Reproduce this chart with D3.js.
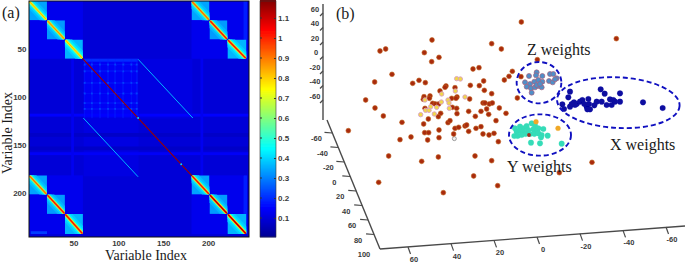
<!DOCTYPE html>
<html>
<head>
<meta charset="utf-8">
<script src="https://cdn.jsdelivr.net/npm/d3@7"></script>
<style>
  html, body { margin: 0; padding: 0; background: #fff; }
  svg { display: block; }
  .tick-label { font-family: "Liberation Sans", sans-serif; font-size: 8px; font-weight: bold; fill: #3a3a3a; }
  .serif-label { font-family: "Liberation Serif", serif; fill: #1a1a1a; }
</style>
</head>
<body>
<svg id="chart" width="685" height="263"></svg>
<script>
// panel (a)
const matrixSize = 245;
const heatTicks = [50, 100, 150, 200];
const colorTicks = [0.1, 0.2, 0.3, 0.4, 0.5, 0.6, 0.7, 0.8, 0.9, 1, 1.1];
const backgroundValue = 0.095;
const groupA = [[1, 20], [21, 40], [41, 60]];
const groupB = [[182, 201], [202, 221], [222, 242]];
const peaksAA = [0.85, 0.9, 0.85];
const peaksAB = [0.95, 1.05, 1.05];
const peaksBA = [0.95, 1.05, 1.05];
const peaksBB = [1.05, 1.15, 1.15];
const blockBase = [0.34, 0.33, 0.36];
// col0, col1, row0, row1, value
const faintRegions = [
  [1, 60, 1, 60, 0.125], [182, 242, 1, 60, 0.125], [1, 60, 182, 242, 0.125], [182, 242, 182, 242, 0.125],
  [62, 122, 61, 122, 0.135], [62, 122, 61, 63, 0.2], [122, 182, 61, 122, 0.11],
  [62, 122, 122, 182, 0.11], [1, 245, 138, 141, 0.075], [1, 245, 152, 155, 0.075],
  [1, 245, 118, 120, 0.15], [1, 245, 158, 160, 0.14], [3, 20, 240, 242, 0.22],
  [48, 50, 60, 182, 0.13], [192, 194, 60, 182, 0.13], [240, 243, 1, 60, 0.18], [240, 243, 182, 242, 0.18]
];
const gridCols = [62, 70, 79, 88, 96, 105, 114, 120];
const gridRows = [66, 73, 85, 96, 106, 112];
const secondaryDiagonals = [[122, 61, 183, 122], [61, 122, 122, 183]];
const mainDiagonal = [60, 182];
const diagonalNodes = [[122, 0.4], [170, 0.4]];

// panel (b), positions in projected plot units
const otherWeights = [[306,120],[150,153],[167,147],[283,158],[305,185],[327,172],[485,131],[514,147],[186,223],[134,246],[248,250],[267,241],[286,248],[429,207],[447,203],[523,240],[537,229],[461,243],[448,257],[421,256],[463,271],[485,281],[107,300],[135,324],[160,348],[216,367],[55,392],[348,258],[345,262],[330,273],[375,263],[381,291],[365,295],[378,295],[419,297],[300,288],[282,290],[280,298],[298,295],[308,310],[316,312],[326,312],[367,322],[380,325],[381,341],[332,340],[325,350],[295,357],[281,372],[285,325],[416,334],[436,349],[453,334],[470,327],[476,343],[508,324],[528,340],[459,309],[465,309],[478,312],[487,309],[498,362],[354,368],[360,362],[375,385],[386,382],[405,378],[410,375],[438,385],[453,380],[210,419],[243,411],[284,398],[296,398],[293,420],[327,413],[371,402],[416,394],[459,402],[477,405],[492,400],[505,425],[176,468],[275,484],[325,471],[435,468],[485,482],[146,547],[431,528],[503,557],[340,578],[327,390],[786,487],[688,518],[574,66],[859,116],[622,179],[547,214],[573,230],[562,294]];
const strayInsideY = [[597,405]];
const paleWeights = [[380,236],[391,237],[335,282],[376,273],[285,300],[334,306],[354,300],[357,309],[405,291],[302,320],[320,322],[358,325],[287,331],[297,331],[313,342],[272,344]];
const greyWeights = [[373,416]];
const zWeights = [[620,217],[618,226],[597,228],[637,228],[660,222],[670,222],[680,235],[585,247],[600,252],[613,245],[625,240],[637,245],[657,243],[668,247],[675,238],[590,260],[603,265],[615,262],[625,258],[635,262],[605,278],[620,255],[630,252]];
const xWeights = [[720,275],[812,268],[824,281],[870,280],[715,292],[697,313],[702,327],[720,320],[725,312],[732,307],[740,312],[750,305],[757,300],[763,312],[770,320],[775,297],[777,312],[780,328],[793,316],[800,305],[815,305],[830,315],[840,298],[850,300],[855,305],[845,315],[870,305],[939,307],[998,324],[772,328],[735,315]];
const yWeights = [[555,385],[570,380],[580,385],[590,378],[605,370],[615,377],[625,385],[640,387],[560,395],[570,392],[580,395],[595,390],[610,388],[620,393],[553,408],[563,408],[575,405],[587,402],[600,402],[613,402],[625,400],[635,405],[653,407],[603,428],[630,430],[695,431],[633,412]];
const orangeWeights = [[618,365],[684,385]];
// cx, cy, rx, ry, tilt
const groupEllipses = [[627,248,67,62,0], [865,308,184,76,3], [630,405,93,62,0]];
// text, x, y
const groupLabels = [["Z weights", 591, 166], ["X weights", 840, 450], ["Y weights", 531, 516]];
const zAxisTicks = [60, 40, 20, 0, -20, -40, -60];
const sideAxisTicks = [-60, -40, -20, 0, 20, 40, 60, 80, 100];
const floorAxisTicks = [60, 40, 20, 0, -20, -40, -60];

const svg = d3.select("#chart");
const defs = svg.append("defs");
defs.append("filter").attr("id", "soft").append("feGaussianBlur").attr("stdDeviation", 0.6);
defs.append("filter").attr("id", "softer").append("feGaussianBlur").attr("stdDeviation", 0.25);

const heatX = d3.scaleLinear().domain([0.5, matrixSize + 0.5]).range([29, 249]);
const heatY = d3.scaleLinear().domain([0.5, matrixSize + 0.5]).range([1, 237]);
const colorMax = 1.19;
const jet = d3.scaleLinear()
  .domain([0, 0.125, 0.375, 0.625, 0.875, 1].map(function(t) { return t * colorMax; }))
  .range(["#000090", "#0000ff", "#00ffff", "#ffff00", "#ff0000", "#800000"]);

defs.append("clipPath").attr("id", "heatClip").append("rect")
  .attr("x", heatX(0.5)).attr("y", heatY(0.5))
  .attr("width", heatX(matrixSize + 0.5) - heatX(0.5)).attr("height", heatY(matrixSize + 0.5) - heatY(0.5));

const heat = svg.append("g").attr("clip-path", "url(#heatClip)").append("g").attr("filter", "url(#soft)");

function cell(g, c0, c1, r0, r1, value, opacity) {
  g.append("rect")
    .attr("x", heatX(c0 - 0.5)).attr("y", heatY(r0 - 0.5))
    .attr("width", heatX(c1 + 0.5) - heatX(c0 - 0.5)).attr("height", heatY(r1 + 0.5) - heatY(r0 - 0.5))
    .attr("fill", jet(value)).attr("opacity", opacity === undefined ? 1 : opacity);
}

cell(heat, 0.5, matrixSize, 0.5, matrixSize, backgroundValue);
faintRegions.forEach(function(d) { cell(heat, d[0], d[1], d[2], d[3], d[4]); });

// the faint spots in the middle square
gridCols.forEach(function(c) { cell(heat, c, c + 1, 61, 122, 0.19, 0.35); });
gridRows.forEach(function(r) { cell(heat, 62, 122, r, r + 1, 0.19, 0.35); });
gridCols.forEach(function(c) {
  gridRows.forEach(function(r) { cell(heat, c, c + 1, r, r + 1, 0.26, 0.6); });
});

// the blocks: flat base, then narrower and hotter bands along their diagonal
let blockId = 0;
function block(cols, rows, base, peak) {
  const id = "block" + (blockId++);
  defs.append("clipPath").attr("id", id).append("rect")
    .attr("x", heatX(cols[0] - 0.5)).attr("y", heatY(rows[0] - 0.5))
    .attr("width", heatX(cols[1] + 0.5) - heatX(cols[0] - 0.5))
    .attr("height", heatY(rows[1] + 0.5) - heatY(rows[0] - 0.5));
  const g = heat.append("g").attr("clip-path", "url(#" + id + ")");
  cell(g, cols[0], cols[1], rows[0], rows[1], base);
  [[11, base + 0.03], [7, base + 0.07], [3.6, (base + peak) / 2 - 0.04], [1.9, peak - 0.1], [0.9, peak]].forEach(function(b) {
    g.append("line")
      .attr("x1", heatX(cols[0])).attr("y1", heatY(rows[0]))
      .attr("x2", heatX(cols[1])).attr("y2", heatY(rows[1]))
      .attr("stroke", jet(b[1])).attr("stroke-width", b[0]);
  });
}
groupA.forEach(function(d, i) {
  block(d, d, blockBase[i], peaksAA[i]);
  block(groupB[i], d, blockBase[i], peaksAB[i]);
  block(d, groupB[i], blockBase[i], peaksBA[i]);
  block(groupB[i], groupB[i], blockBase[i], peaksBB[i]);
});

secondaryDiagonals.forEach(function(d) {
  heat.append("line")
    .attr("x1", heatX(d[0])).attr("y1", heatY(d[1])).attr("x2", heatX(d[2])).attr("y2", heatY(d[3]))
    .attr("stroke", jet(0.36)).attr("stroke-width", 1);
});
heat.append("line")
  .attr("x1", heatX(mainDiagonal[0])).attr("y1", heatY(mainDiagonal[0]))
  .attr("x2", heatX(mainDiagonal[1])).attr("y2", heatY(mainDiagonal[1]))
  .attr("stroke", jet(1.16)).attr("stroke-width", 1.1);
diagonalNodes.forEach(function(d) {
  heat.append("circle").attr("cx", heatX(d[0])).attr("cy", heatY(d[0])).attr("r", 1).attr("fill", jet(d[1]));
});

svg.append("rect")
  .attr("x", heatX(0.5)).attr("y", heatY(0.5))
  .attr("width", heatX(matrixSize + 0.5) - heatX(0.5)).attr("height", heatY(matrixSize + 0.5) - heatY(0.5))
  .attr("fill", "none").attr("stroke", "#111").attr("stroke-width", 1);

const heatAxisX = d3.axisBottom(heatX).tickValues(heatTicks).tickSize(0).tickPadding(3);
const heatAxisY = d3.axisLeft(heatY).tickValues(heatTicks).tickSize(0).tickPadding(2.5);
[svg.append("g").attr("transform", "translate(0,237)").call(heatAxisX),
 svg.append("g").attr("transform", "translate(29,0)").call(heatAxisY)].forEach(function(g) {
  g.select(".domain").remove();
  g.attr("font-size", null).attr("font-family", null);
  g.selectAll("text").attr("class", "tick-label");
});

// colour bar
const barY = d3.scaleLinear().domain([0, colorMax]).range([238, 0]);
const barSteps = d3.range(0.005, 1.185, 0.005);
svg.append("g").attr("filter", "url(#softer)").selectAll("rect").data(barSteps).enter().append("rect")
  .attr("x", 260).attr("width", 16)
  .attr("y", function(d) { return barY(d + 0.005); })
  .attr("height", function(d) { return barY(d) - barY(d + 0.005) + 0.4; })
  .attr("fill", function(d) { return jet(d); });
svg.append("rect").attr("x", 260).attr("y", barY(1.185)).attr("width", 16)
  .attr("height", barY(0.005) - barY(1.185)).attr("fill", "none").attr("stroke", "#333").attr("stroke-width", 0.6);
const barAxis = d3.axisRight(barY).tickValues(colorTicks).tickSize(-2).tickPadding(4).tickFormat(d3.format(""));
const barG = svg.append("g").attr("transform", "translate(276,0)").call(barAxis);
barG.select(".domain").remove();
barG.attr("font-size", null).attr("font-family", null);
barG.selectAll("text").attr("class", "tick-label").attr("x", 2);
barG.selectAll("line").attr("stroke", "#333");
svg.append("g").selectAll("line").data(colorTicks).enter().append("line")
  .attr("x1", 260).attr("x2", 262)
  .attr("y1", function(d) { return barY(d); }).attr("y2", function(d) { return barY(d); })
  .attr("stroke", "#333");

svg.append("text").attr("class", "serif-label").attr("x", 2).attr("y", 18).attr("font-size", 16).text("(a)");
svg.append("text").attr("class", "serif-label").attr("x", 336).attr("y", 19).attr("font-size", 16).text("(b)");
svg.append("text").attr("class", "serif-label").attr("x", 146).attr("y", 260).attr("font-size", 14)
  .attr("text-anchor", "middle").text("Variable Index");
svg.append("text").attr("class", "serif-label").attr("font-size", 14).attr("text-anchor", "middle")
  .attr("transform", "translate(12,133) rotate(-90)").text("Variable Index");

// panel (b)
const plotX = d3.scaleLinear().domain([0, 1065]).range([330, 685]);
const plotY = d3.scaleLinear().domain([0, 789]).range([0, 263]);

const axisColor = "#4a4a4a";
const frame = svg.append("g").attr("filter", "url(#softer)");
function seg(x1, y1, x2, y2, w) {
  frame.append("line").attr("x1", x1).attr("y1", y1).attr("x2", x2).attr("y2", y2)
    .attr("stroke", axisColor).attr("stroke-width", w);
}
function label(x, y, t) {
  svg.append("text").attr("class", "tick-label").attr("x", x).attr("y", y)
    .attr("text-anchor", "middle").attr("dy", "0.35em").style("font-size", "7.5px").text(t);
}

const zAxisY = d3.scaleLinear().domain([60, -60]).range([13, 100]);
seg(323, 4, 323, 120, 1.4);
zAxisTicks.forEach(function(t) {
  seg(323, zAxisY(t), 320, zAxisY(t) + 3, 1.2);
  label(t === 0 ? 316 : 315, zAxisY(t) - 4, t);
});

const sideY = d3.scaleLinear().domain([-60, 100]).range([133, 249]);
const sideX = d3.scaleLinear().domain([-60, 100]).range([332.5, 380]);
seg(327, 120, 380, 249, 1.4);
sideAxisTicks.forEach(function(t) {
  if (t !== 100) seg(sideX(t), sideY(t), sideX(t) - 8, sideY(t) - 0.7, 1.2);
  label(sideX(t) - 16, sideY(t) + 5.5, t);
});

const floorX = d3.scaleLinear().domain([60, -60]).range([408, 666]);
const floorY = d3.scaleLinear().domain([60, -60]).range([247, 227]);
seg(380, 249, 685, 226, 1.4);
floorAxisTicks.forEach(function(t) {
  seg(floorX(t), floorY(t), floorX(t) + 2.5, floorY(t) + 7, 1.2);
  label(floorX(t) + 6, floorY(t) + 12.5, t);
});

const marks = svg.append("g").attr("filter", "url(#softer)");
function dots(data, r, fill, stroke, sw) {
  marks.append("g").selectAll("circle").data(data).enter().append("circle")
    .attr("cx", function(d) { return plotX(d[0]); })
    .attr("cy", function(d) { return plotY(d[1]); })
    .attr("r", r).attr("fill", fill).attr("stroke", stroke).attr("stroke-width", sw);
}
dots(greyWeights, 2, "#f0f0f0", "#888", 0.8);
dots(otherWeights, 2.4, "#a92c0e", "#c0601c", 0.6);
dots(paleWeights, 2.2, "#f0d84a", "#d9a0c4", 0.9);
dots(zWeights, 2.5, "#4f8fc8", "#a8607c", 0.7);
dots(xWeights, 2.8, "#0808a0", "#0808a0", 0.2);
dots(yWeights, 2.8, "#35dcb8", "#35dcb8", 0.2);
dots(orangeWeights, 2.5, "#f0a828", "#f0a828", 0.2);
dots(strayInsideY, 1.9, "#a03020", "none", 0);

svg.append("g").selectAll("ellipse").data(groupEllipses).enter().append("ellipse")
  .attr("cx", function(d) { return plotX(d[0]); })
  .attr("cy", function(d) { return plotY(d[1]); })
  .attr("rx", function(d) { return plotX(d[2]) - plotX(0); })
  .attr("ry", function(d) { return plotY(d[3]) - plotY(0); })
  .attr("transform", function(d) { return "rotate(" + d[4] + " " + plotX(d[0]) + " " + plotY(d[1]) + ")"; })
  .attr("fill", "none").attr("stroke", "#1010c0").attr("stroke-width", 1.9).attr("stroke-dasharray", "5 3");

svg.append("g").selectAll("text").data(groupLabels).enter().append("text")
  .attr("class", "serif-label").attr("font-size", 16)
  .attr("x", function(d) { return plotX(d[1]); })
  .attr("y", function(d) { return plotY(d[2]); })
  .text(function(d) { return d[0]; });
</script>
</body>
</html>
